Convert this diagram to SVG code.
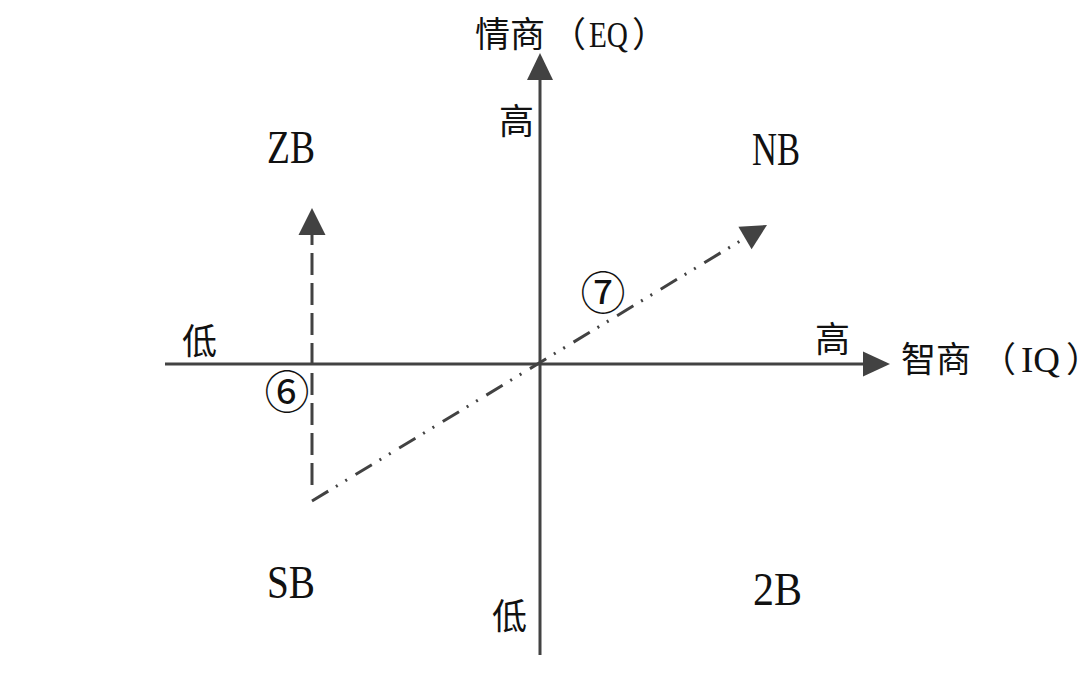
<svg xmlns="http://www.w3.org/2000/svg" width="1080" height="679" viewBox="0 0 1080 679">
<style>
.ax{stroke:#424242;stroke-width:3;fill:none}
.ah{fill:#424242;stroke:none}
.cjk{font-family:"Liberation Serif","Noto Sans CJK SC",serif;font-size:35px;fill:#111}
.lat{font-family:"Liberation Serif","Noto Sans CJK SC",serif;font-size:47px;fill:#111}
.num{font-family:"Noto Sans CJK SC",sans-serif;font-size:45px;fill:#111}
</style>
<rect width="1080" height="679" fill="#fff"/>
<g id="connectors">
<line id="axis-eq" class="ax" x1="540" y1="655" x2="540" y2="80"/>
<polygon class="ah" points="527,80 553,80 540,53"/>
<line id="axis-iq" class="ax" x1="165" y1="364" x2="863" y2="364"/>
<polygon class="ah" points="863,351.5 863,376.5 890,364"/>
<line id="path6" class="ax" x1="312" y1="485" x2="312" y2="235" stroke-dasharray="22 8"/>
<polygon class="ah" points="298.5,235 325.5,235 312,208"/>
<line id="path7" class="ax" x1="312" y1="501" x2="745" y2="238" stroke-dasharray="19 9 2 9 2 10"/>
<polygon class="ah" points="738.4,226.8 751.6,249.2 767,225"/>
</g>
<g id="label-eq"><text class="cjk" y="47"><tspan x="475">情商</tspan><tspan x="551">（</tspan><tspan x="589" textLength="39" lengthAdjust="spacingAndGlyphs">EQ</tspan><tspan x="632">）</tspan></text></g>
<g id="label-iq"><text class="cjk" y="372"><tspan x="901">智商</tspan><tspan x="981">（</tspan><tspan x="1021" textLength="39" lengthAdjust="spacingAndGlyphs">IQ</tspan><tspan x="1066">）</tspan></text></g>
<g id="eq-high"><text class="cjk" x="499" y="134">高</text></g>
<g id="eq-low"><text class="cjk" x="492" y="629">低</text></g>
<g id="iq-low"><text class="cjk" x="182" y="354">低</text></g>
<g id="iq-high"><text class="cjk" x="815" y="352">高</text></g>
<g id="ZB"><text class="lat" x="267" y="163" textLength="48" lengthAdjust="spacingAndGlyphs">ZB</text></g>
<g id="NB"><text class="lat" x="752" y="165" textLength="48" lengthAdjust="spacingAndGlyphs">NB</text></g>
<g id="SB"><text class="lat" x="267" y="598" textLength="48" lengthAdjust="spacingAndGlyphs">SB</text></g>
<g id="2B"><text class="lat" x="753" y="605" textLength="49" lengthAdjust="spacingAndGlyphs">2B</text></g>
<g id="n6"><text class="num" x="287" y="409" text-anchor="middle">⑥</text></g>
<g id="n7"><text class="num" x="603" y="310" text-anchor="middle">⑦</text></g>
</svg>
